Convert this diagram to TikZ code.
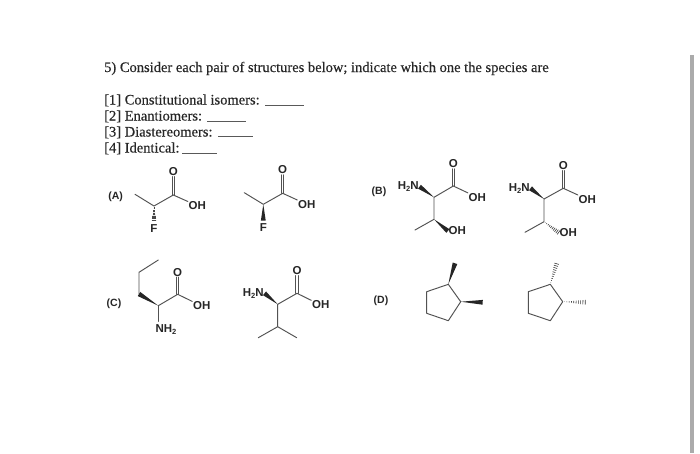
\documentclass[tikz,border=0pt]{standalone}
\usepackage{fontspec}
\setmainfont{Liberation Serif}
\newfontfamily\chemfont{Liberation Sans}
\newfontfamily\qfont[FakeBold=0.25]{Liberation Serif}
\usetikzlibrary{calc}
\newcommand{\subtwo}{\raisebox{-2pt}{\fontsize{7.5}{8}\selectfont 2}}
\newcommand{\wedgebond}[2]{\fill[bondink] (#1) -- ($(#2)!2.4pt!90:(#1)$) -- ($(#2)!2.4pt!-90:(#1)$) -- cycle;}
\newcommand{\hashbond}[2]{\foreach \t in {0.08,0.18,...,1.0}{\draw[bondink,line width=0.6pt] ($(#1)!\t!(#2)!{2.4pt*\t}!90:(#2)$) -- ($(#1)!\t!(#2)!{2.4pt*\t}!-90:(#2)$);}}
\newcommand{\dbl}[2]{\draw[bond] ([xshift=-1.2pt]#1) -- ([xshift=-1.2pt]#2.south); \draw[bond] ([xshift=1.2pt]#1) -- ([xshift=1.2pt]#2.south);}
\tikzset{
  bondink/.style={color=black!72,fill=black!85},
  bond/.style={draw=black!68,line width=0.95pt,line cap=round,line join=round},
  atom/.style={font=\chemfont\bfseries\fontsize{11.5}{12}\selectfont,text=black!85,inner sep=0.6pt},
  pairlabel/.style={font=\chemfont\bfseries\fontsize{10.5}{12}\selectfont,text=black!85,inner sep=0pt},
  qline/.style={font=\qfont\fontsize{14.5}{15}\selectfont,text=black!85,anchor=base west,inner sep=0pt},
  blank/.style={draw=black!65,line width=0.9pt},
}
\begin{document}
\begin{tikzpicture}[x=1pt,y=-1pt]
\useasboundingbox (0,0) rectangle (700,453);
\fill[white] (0,0) rectangle (700,453);
% scrollbar
\fill[black!33] (689.5,55) rectangle (694,453);
% text
\node[qline] (title) at (104,72) {5) Consider each pair of structures below; indicate which one the species are};
\node[qline] (q1) at (104,104.5) {[1] Constitutional isomers:};
\node[qline] (q2) at (104,120.5) {[2] Enantiomers:};
\node[qline] (q3) at (104,136.5) {[3] Diastereomers:};
\node[qline] (q4) at (104,152.5) {[4] Identical:};
\coordinate (u1a) at (265,105); \coordinate (u1b) at (304,105);
\coordinate (u2a) at (207,121); \coordinate (u2b) at (246,121);
\coordinate (u3a) at (218,136.5); \coordinate (u3b) at (253,136.5);
\coordinate (u4a) at (182,153); \coordinate (u4b) at (217,153);
\draw[blank] (u1a) -- (u1b); \draw[blank] (u2a) -- (u2b); \draw[blank] (u3a) -- (u3b); \draw[blank] (u4a) -- (u4b);
% labels
\node[pairlabel] (la) at (115.7,196.3) {(A)};
\node[pairlabel] (lb) at (379,191.7) {(B)};
\node[pairlabel] (lc) at (114,303.3) {(C)};
\node[pairlabel] (ld) at (381,300.7) {(D)};
% A left
\coordinate (a1m) at (135,194.3); \coordinate (a1s) at (154,206); \coordinate (a1c) at (173.3,195); \coordinate (a1e) at (154,220.5);
\node[atom] (a1o) at (173.3,171.7) {O};
\node[atom] (a1h) at (197.3,205.7) {OH};
\node[atom] (a1f) at (154,228.3) {F};
\draw[bond] (a1m) -- (a1s) -- (a1c); \dbl{a1c}{a1o}
\draw[bond] (a1c) -- (a1h);
\hashbond{a1s}{a1e}
% A right
\coordinate (a2m) at (244.3,192.7); \coordinate (a2s) at (263.3,204.3); \coordinate (a2c) at (282.7,193.3); \coordinate (a2e) at (263.3,220.5);
\node[atom] (a2o) at (282.7,170) {O};
\node[atom] (a2h) at (306.7,204.3) {OH};
\node[atom] (a2f) at (263.3,227.5) {F};
\draw[bond] (a2m) -- (a2s) -- (a2c); \dbl{a2c}{a2o}
\draw[bond] (a2c) -- (a2h);
\wedgebond{a2s}{a2e}
% B left
\coordinate (b1s) at (434,197.3); \coordinate (b1c) at (453.3,186); \coordinate (b1l) at (434,219.3); \coordinate (b1m) at (415,230);
\node[atom] (b1n) at (408.3,186.7) {H\subtwo N};
\node[atom] (b1o) at (453.3,164) {O};
\node[atom] (b1h) at (477.3,197.3) {OH};
\node[atom] (b1q) at (457.3,231) {OH};
\draw[bond] (b1m) -- (b1l) -- (b1s) -- (b1c); \dbl{b1c}{b1o}
\draw[bond] (b1c) -- (b1h);
\wedgebond{b1s}{b1n.east}
\wedgebond{b1l}{b1q.west}
% B right
\coordinate (b2s) at (544,199); \coordinate (b2c) at (563.3,188.3); \coordinate (b2l) at (544,221.7); \coordinate (b2m) at (525,232.3);
\node[atom] (b2n) at (519.3,188.3) {H\subtwo N};
\node[atom] (b2o) at (563.3,165.7) {O};
\node[atom] (b2h) at (587.3,199.3) {OH};
\node[atom] (b2q) at (568.3,232.7) {OH};
\draw[bond] (b2m) -- (b2l) -- (b2s) -- (b2c); \dbl{b2c}{b2o}
\draw[bond] (b2c) -- (b2h);
\wedgebond{b2s}{b2n.east}
\hashbond{b2l}{b2q.west}
% C left
\coordinate (c1t) at (158.3,260); \coordinate (c1u) at (139,272.3); \coordinate (c1v) at (139,294);
\coordinate (c1s) at (158.3,305.7); \coordinate (c1c) at (177.7,294.3);
\node[atom] (c1o) at (177.7,272.3) {O};
\node[atom] (c1h) at (201.7,306) {OH};
\node[atom] (c1n) at (166,329.3) {NH\subtwo};
\coordinate (c1b) at (158.3,321.5);
\draw[bond] (c1t) -- (c1u) -- (c1v); \draw[bond] (c1s) -- (c1c); \dbl{c1c}{c1o}
\draw[bond] (c1c) -- (c1h); \draw[bond] (c1s) -- (c1b);
\wedgebond{c1s}{c1v}
% C right
\coordinate (c2s) at (277.7,304.3); \coordinate (c2c) at (297,293.3); \coordinate (c2l) at (277.7,326.7);
\coordinate (c2a) at (258.3,337.7); \coordinate (c2b) at (296.7,337.7);
\node[atom] (c2n) at (253.3,293.3) {H\subtwo N};
\node[atom] (c2o) at (297,270.7) {O};
\node[atom] (c2h) at (320.7,305) {OH};
\draw[bond] (c2a) -- (c2l) -- (c2b); \draw[bond] (c2l) -- (c2s) -- (c2c); \dbl{c2c}{c2o}
\draw[bond] (c2c) -- (c2h);
\wedgebond{c2s}{c2n.east}
% D left
\coordinate (d1a) at (448.3,284.3); \coordinate (d1b) at (460.7,301.7); \coordinate (d1c) at (448.3,320.7);
\coordinate (d1d) at (426.7,313.3); \coordinate (d1e) at (426.7,291.7);
\coordinate (d1x) at (455,263.3); \coordinate (d1y) at (482.7,302.3);
\draw[bond] (d1a) -- (d1b) -- (d1c) -- (d1d) -- (d1e) -- cycle;
\wedgebond{d1a}{d1x}
\wedgebond{d1b}{d1y}
% D right
\coordinate (d2a) at (550.3,284.3); \coordinate (d2b) at (562.7,301.7); \coordinate (d2c) at (550.3,320.7);
\coordinate (d2d) at (528.3,313.3); \coordinate (d2e) at (528.3,291.7);
\coordinate (d2x) at (556.7,263.3); \coordinate (d2y) at (585.7,302.3);
\draw[bond] (d2a) -- (d2b) -- (d2c) -- (d2d) -- (d2e) -- cycle;
\hashbond{d2a}{d2x}
\hashbond{d2b}{d2y}
\end{tikzpicture}
\end{document}
